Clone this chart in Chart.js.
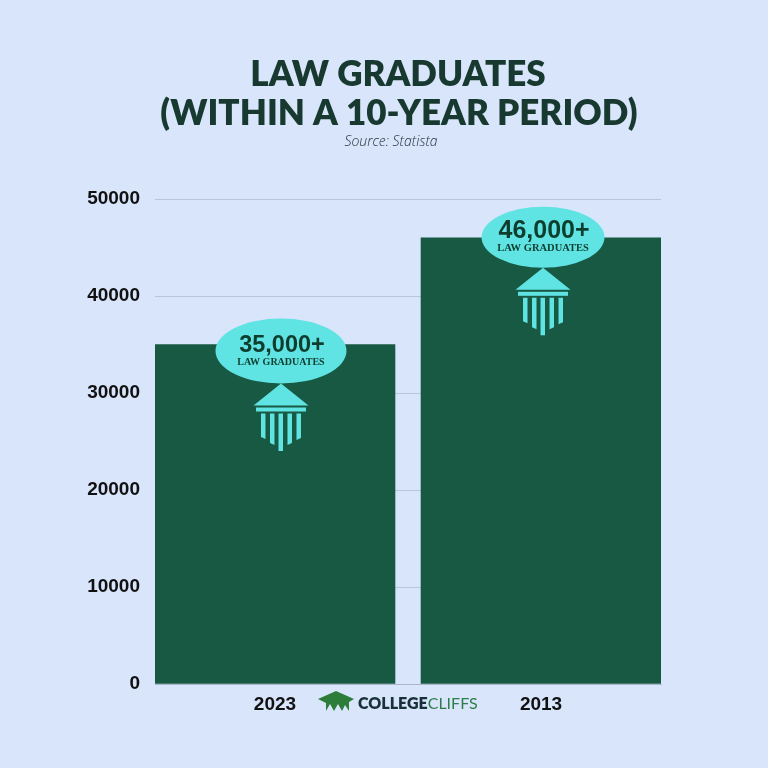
<!DOCTYPE html>
<html>
<head>
<meta charset="utf-8">
<title>Law Graduates</title>
<script src="https://cdn.jsdelivr.net/npm/chart.js"></script>
<style>
    html, body { margin: 0; padding: 0; background: #d9e5fb; }
    #wrap { width: 768px; height: 768px; }
</style>
</head>
<body>
<div id="wrap"><canvas id="lawChart" width="768" height="768"></canvas></div>
<script>
const categories = ['2023', '2013'];
const graduates = [35000, 46000];
const calloutValues = ['35,000+', '46,000+'];
const calloutLabel = 'LAW GRADUATES';
const titleLines = ['LAW GRADUATES', '(WITHIN A 10-YEAR PERIOD)'];
const sourceText = 'Source: Statista';

const titleColor = '#17392f';
const barColor = '#175943';
const cyan = '#5fe3e3';
const sansFont = '"Liberation Sans", Arial, sans-serif';

// Title, source line and footer logo
const headerPlugin = {
    id: 'header',
    afterDraw(chart) {
        const ctx = chart.ctx;
        ctx.save();
        ctx.textAlign = 'center';
        ctx.textBaseline = 'alphabetic';
        ctx.fillStyle = titleColor;
        ctx.font = '800 35px Lato, sans-serif';
        ctx.fillText(titleLines[0], 398, 86);
        ctx.fillText(titleLines[1], 399, 125);
        ctx.fillStyle = '#1f2d38';
        ctx.font = 'italic 300 14px "Open Sans", sans-serif';
        ctx.fillText(sourceText, 391, 146);

        // logo
        const logo = [[318, 699], [336, 691], [354, 699], [349, 702], [349, 711], [345, 705], [342, 711],
            [338, 704], [334, 711], [330, 704], [326, 711], [326, 703]];
        ctx.fillStyle = '#2c7d3a';
        ctx.beginPath();
        logo.forEach((p, i) => i ? ctx.lineTo(p[0], p[1]) : ctx.moveTo(p[0], p[1]));
        ctx.closePath();
        ctx.fill();
        ctx.textAlign = 'left';
        ctx.font = '800 16px Lato, sans-serif';
        ctx.fillStyle = '#17303a';
        ctx.fillText('COLLEGE', 358, 709);
        const w = ctx.measureText('COLLEGE').width;
        ctx.font = '400 16px Lato, sans-serif';
        ctx.fillStyle = '#2c7d4a';
        ctx.fillText('CLIFFS', 358 + w, 709);
        ctx.restore();
    }
};

// Speech bubble and courthouse icon on top of each bar
const calloutPlugin = {
    id: 'callouts',
    afterDatasetsDraw(chart) {
        const ctx = chart.ctx;
        const bars = chart.getDatasetMeta(0).data;
        const shiftX = [6, 2];
        const shiftY = [6.5, -0.5];
        const radiusX = [65.5, 61.5];
        const radiusY = [32.5, 30.5];
        const iconShift = [2, 0];
        const valueFont = [23.5, 25];
        const labelFont = [10, 10.5];
        bars.forEach((bar, i) => {
            const cx = bar.x + shiftX[i];
            const cy = bar.y + shiftY[i];
            const iy = cy + iconShift[i];
            ctx.save();
            ctx.fillStyle = cyan;
            ctx.beginPath();
            ctx.ellipse(cx, cy, radiusX[i], radiusY[i], 0, 0, Math.PI * 2);
            ctx.fill();

            // roof
            ctx.beginPath();
            ctx.moveTo(cx, iy + 30.5);
            ctx.lineTo(cx + 27.5, iy + 52.5);
            ctx.lineTo(cx - 27.5, iy + 52.5);
            ctx.closePath();
            ctx.fill();
            ctx.fillRect(cx - 25, iy + 54.5, 50, 4);

            // columns
            [[-20, 86], [-11, 92], [-2.5, 98], [6.5, 92], [15.5, 87]].forEach(c => {
                ctx.beginPath();
                ctx.moveTo(cx + c[0], iy + 60.5);
                ctx.lineTo(cx + c[0] + 4.5, iy + 60.5);
                ctx.lineTo(cx + c[0] + 4.5, iy + c[1] - (c[0] > 0 ? 2 : 0));
                ctx.lineTo(cx + c[0], iy + c[1] - (c[0] < -3 ? 2 : 0));
                ctx.closePath();
                ctx.fill();
            });

            ctx.textAlign = 'center';
            ctx.textBaseline = 'alphabetic';
            ctx.fillStyle = '#0f3d2e';
            ctx.font = 'bold ' + valueFont[i] + 'px ' + sansFont;
            ctx.fillText(calloutValues[i], cx + 1, cy + 0.5);
            ctx.font = 'bold ' + labelFont[i] + 'px "Liberation Serif", serif';
            ctx.fillText(calloutLabel, cx, cy + 13.5);
            ctx.restore();
        });
    }
};

new Chart(document.getElementById('lawChart'), {
    type: 'bar',
    data: {
        datasets: [{
            data: categories.map((c, i) => ({ x: i, y: graduates[i] })),
            backgroundColor: barColor,
            borderWidth: 0,
            barThickness: 240
        }]
    },
    options: {
        responsive: false,
        animation: false,
        layout: { padding: { top: 199, right: 107, bottom: 0, left: 0 } },
        plugins: {
            legend: { display: false },
            title: { display: false },
            tooltip: { enabled: false }
        },
        scales: {
            // linear index axis so the two bars sit flush with the plot edges
            x: {
                type: 'linear',
                offset: false,
                min: -0.451,
                max: 1.451,
                afterBuildTicks(scale) { scale.ticks = categories.map((c, i) => ({ value: i })); },
                grid: { display: false },
                border: { color: '#a9b6cc' },
                afterFit(scale) { scale.height = 84; },
                ticks: {
                    color: '#111111',
                    padding: 1,
                    font: { family: sansFont, size: 19, weight: 'bold' },
                    callback: value => categories[value]
                }
            },
            y: {
                min: 0,
                max: 50000,
                afterFit(scale) { scale.width = 155; },
                grid: { color: '#b9c5dd', drawTicks: false },
                border: { display: false },
                ticks: {
                    stepSize: 10000,
                    color: '#111111',
                    padding: 15,
                    font: { family: sansFont, size: 19, weight: 'bold' },
                    callback: value => String(value)
                }
            }
        }
    },
    plugins: [calloutPlugin, headerPlugin]
});
</script>
</body>
</html>
